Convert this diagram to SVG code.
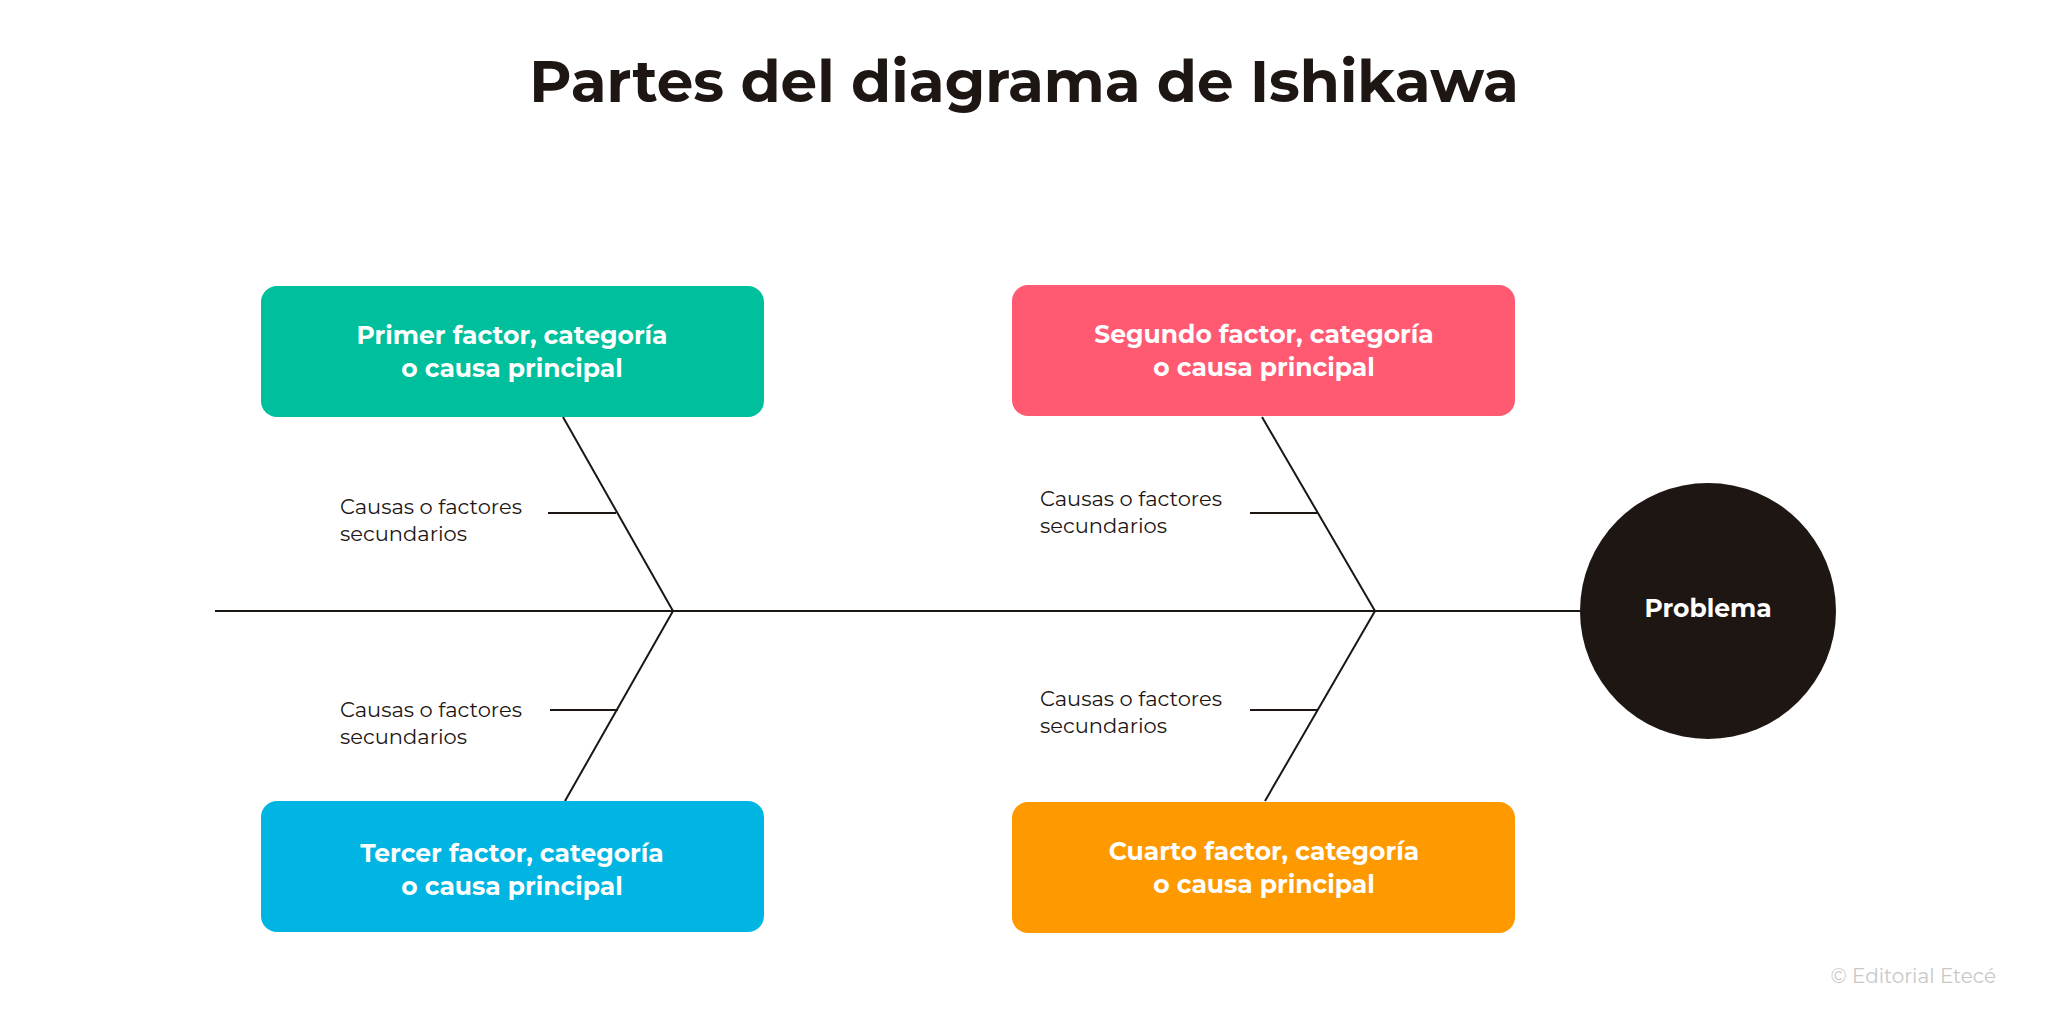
<svg xmlns="http://www.w3.org/2000/svg" width="2048" height="1024" viewBox="0 0 2048 1024">
<style>
.box{rx:16}
.bt{font-family:"Montserrat","Noto Sans","Liberation Sans",sans-serif;font-weight:700;font-size:25px;fill:#fff;text-anchor:middle}
.lb{font-family:"Montserrat","Noto Sans","Liberation Sans",sans-serif;font-size:21px;fill:#1e1613}
.ln{stroke:#1e1613;stroke-width:2;fill:none}
</style>
<rect width="2048" height="1024" fill="#fff"/>
<text x="1024" y="102" text-anchor="middle" font-family="'Montserrat','Noto Sans','Liberation Sans',sans-serif" font-weight="700" font-size="58" fill="#1e1613">Partes del diagrama de Ishikawa</text>
<g id="connectors" class="ln">
<line x1="215" y1="611" x2="1584" y2="611"/>
<polyline points="563,417 673,611 565,801"/>
<polyline points="1262,417 1375,611 1265,801"/>
<line x1="548" y1="513" x2="616" y2="513"/>
<line x1="550" y1="710" x2="618" y2="710"/>
<line x1="1250" y1="513" x2="1318" y2="513"/>
<line x1="1250" y1="710" x2="1318" y2="710"/>
</g>
<g id="n1"><rect class="box" x="261" y="286" width="503" height="131" fill="#00bf9c"/><text class="bt" x="512" y="344">Primer factor, categoría</text><text class="bt" x="512" y="377">o causa principal</text></g>
<g id="n2"><rect class="box" x="1012" y="285" width="503" height="131" fill="#ff5a72"/><text class="bt" x="1264" y="343">Segundo factor, categoría</text><text class="bt" x="1264" y="376">o causa principal</text></g>
<g id="n3"><rect class="box" x="261" y="801" width="503" height="131" fill="#00b5e2"/><text class="bt" x="512" y="862">Tercer factor, categoría</text><text class="bt" x="512" y="895">o causa principal</text></g>
<g id="n4"><rect class="box" x="1012" y="802" width="503" height="131" fill="#ff9900"/><text class="bt" x="1264" y="860">Cuarto factor, categoría</text><text class="bt" x="1264" y="893">o causa principal</text></g>
<g id="problema"><circle cx="1708" cy="611" r="128" fill="#1e1613"/><text class="bt" x="1708" y="617" font-weight="600" font-size="24">Problema</text></g>
<g id="l1"><text class="lb" x="340" y="514">Causas o factores</text><text class="lb" x="340" y="541">secundarios</text></g>
<g id="l2"><text class="lb" x="1040" y="506">Causas o factores</text><text class="lb" x="1040" y="533">secundarios</text></g>
<g id="l3"><text class="lb" x="340" y="717">Causas o factores</text><text class="lb" x="340" y="744">secundarios</text></g>
<g id="l4"><text class="lb" x="1040" y="706">Causas o factores</text><text class="lb" x="1040" y="733">secundarios</text></g>
<text x="1996" y="983" text-anchor="end" font-family="'Montserrat','Noto Sans','Liberation Sans',sans-serif" font-size="20" fill="#c8c8c8">© Editorial Etecé</text>
</svg>
